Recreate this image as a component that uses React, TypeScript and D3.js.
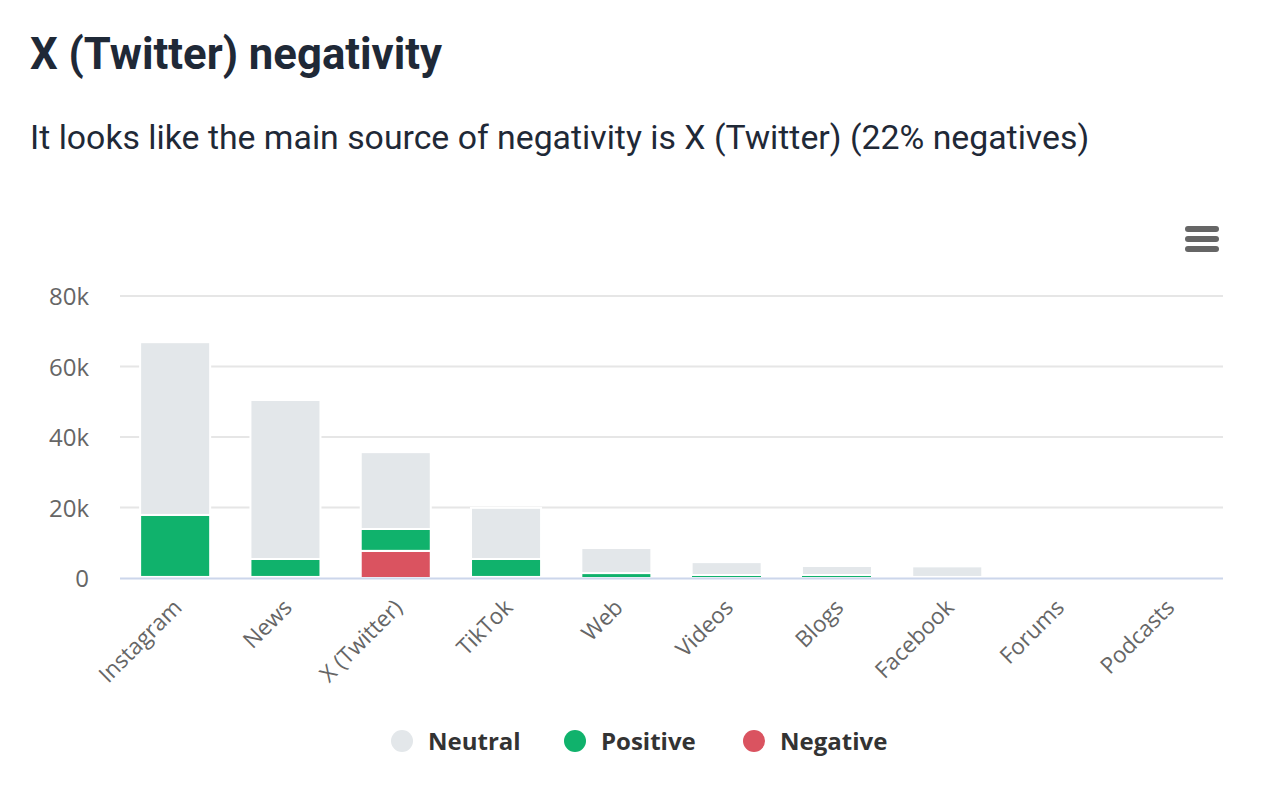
import React from "react";
import * as d3 from "d3";

const categories = ["Instagram", "News", "X (Twitter)", "TikTok", "Web", "Videos", "Blogs", "Facebook", "Forums", "Podcasts"];
const neutralValues = [49000, 45100, 21800, 14500, 7100, 3650, 2550, 3000, 0, 0];
const positiveValues = [17600, 5100, 6200, 5100, 1400, 850, 850, 300, 0, 0];
const negativeValues = [300, 300, 7700, 300, 0, 0, 0, 0, 0, 0];
const yTicks = [0, 20000, 40000, 60000, 80000];

const seriesNames = ["Neutral", "Positive", "Negative"];
const colors: Record<string, string> = { Neutral: "#e3e7ea", Positive: "#10b26c", Negative: "#da5360" };

const W = 1270, H = 798;
const left = 120, right = 1223, top = 296, bottom = 578;

export default function App() {
  const rows = categories.map((c, i) => ({
    category: c,
    Negative: negativeValues[i],
    Positive: positiveValues[i],
    Neutral: neutralValues[i],
  }));
  const stacked = d3.stack<any>().keys(["Negative", "Positive", "Neutral"])(rows);
  const x = d3.scaleBand().domain(categories).range([left, right]).paddingInner(0.365).paddingOuter(0.1825);
  const y = d3.scaleLinear().domain([0, 80000]).range([bottom, top]);
  const axisFont = "'Open Sans', sans-serif";
  const legendX = [402, 575, 754];

  return (
    <svg width={W} height={H} style={{ position: "absolute", left: 0, top: 0, background: "#fff" }}>
      <text x={30} y={68.5} fontFamily="Roboto, sans-serif" fontWeight={700} fontSize={43.7} fill="#1f2937">
        X (Twitter) negativity
      </text>
      <text x={30} y={149} fontFamily="Roboto, sans-serif" fontSize={33.8} fill="#1f2937">
        It looks like the main source of negativity is X (Twitter) (22% negatives)
      </text>
      {/* menu icon */}
      {[229, 239, 249].map((yy) => (
        <line key={yy} x1={1188} x2={1216} y1={yy} y2={yy} stroke="#666" strokeWidth={6} strokeLinecap="round" />
      ))}
      {/* gridlines */}
      {yTicks.filter((t) => t > 0).map((t) => (
        <line key={t} x1={left} x2={right} y1={y(t)} y2={y(t)} stroke="#e6e6e6" strokeWidth={2} />
      ))}
      {yTicks.map((t) => (
        <text key={"l" + t} x={89} y={y(t) + 9} textAnchor="end" fontFamily={axisFont} fontSize={24} fill="#666">
          {t === 0 ? "0" : `${t / 1000}k`}
        </text>
      ))}
      {/* bars */}
      {stacked.map((s) => (
        <g key={s.key} fill={colors[s.key as string]}>
          {s.map((d, i) => {
            const h = y(d[0]) - y(d[1]);
            if (h <= 0) return null;
            return (
              <rect key={i} x={x(categories[i])!} y={y(d[1])} width={x.bandwidth()} height={h} stroke="#fff" strokeWidth={2} />
            );
          })}
        </g>
      ))}
      <line x1={left} x2={right} y1={bottom + 0.5} y2={bottom + 0.5} stroke="#ccd6eb" strokeWidth={2} />
      {/* x labels */}
      {categories.map((c) => {
        const cx = x(c)! + x.bandwidth() / 2 + 8;
        const cy = bottom + 31;
        return (
          <text key={c} x={cx} y={cy} transform={`rotate(-45 ${cx} ${cy})`} textAnchor="end" fontFamily={axisFont} fontSize={22.5} fill="#666">
            {c}
          </text>
        );
      })}
      {/* legend */}
      {seriesNames.map((n, i) => (
        <g key={n}>
          <circle cx={legendX[i]} cy={741} r={11} fill={colors[n]} />
          <text x={legendX[i] + 26} y={750} fontFamily={axisFont} fontWeight={700} fontSize={24} fill="#333">
            {n}
          </text>
        </g>
      ))}
    </svg>
  );
}
